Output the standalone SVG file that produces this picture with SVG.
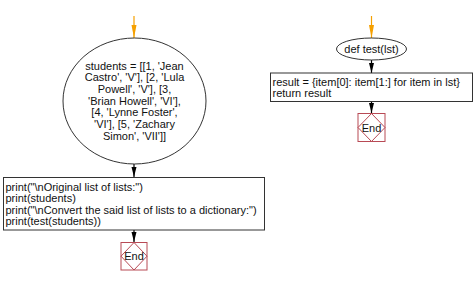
<svg xmlns="http://www.w3.org/2000/svg" width="474" height="283" viewBox="0 0 474 283">
<defs>
<marker id="ah" markerWidth="6" markerHeight="10" refX="3" refY="10" markerUnits="userSpaceOnUse" viewBox="0 0 6 10">
<path d="M0.5,0 L5.5,0 L3,10 Z" fill="#000"/>
</marker>
<marker id="ao" markerWidth="6" markerHeight="13" refX="3" refY="13" markerUnits="userSpaceOnUse" viewBox="0 0 6 13">
<path d="M0.5,0 L5.5,0 L3,13 Z" fill="#f5a000"/>
</marker>
<style>
text{font-family:"Liberation Sans",Arial,sans-serif;font-size:11px;fill:#111}
.c{text-anchor:middle}
.shape{fill:#fff;stroke:#333;stroke-width:1}
.endbox{fill:#fff;stroke:#b84a55;stroke-width:1}
.enddia{fill:none;stroke:#b84a55;stroke-width:1}
.ln{stroke:#000;stroke-width:1.2;fill:none}
.lo{stroke:#f5a000;stroke-width:1.2;fill:none}
</style>
</defs>
<rect width="474" height="283" fill="#fff"/>
<g id="connectors">
<line class="lo" x1="134" y1="16" x2="134" y2="38" marker-end="url(#ao)"/>
<line class="ln" x1="134" y1="164" x2="134" y2="177" marker-end="url(#ah)"/>
<line class="ln" x1="134" y1="230" x2="134" y2="242" marker-end="url(#ah)"/>
<line class="lo" x1="371.5" y1="16" x2="371.5" y2="38" marker-end="url(#ao)"/>
<line class="ln" x1="371.5" y1="60" x2="371.5" y2="73" marker-end="url(#ah)"/>
<line class="ln" x1="371.5" y1="102" x2="371.5" y2="113" marker-end="url(#ah)"/>
</g>
<g id="students">
<ellipse class="shape" cx="134.5" cy="101" rx="71.5" ry="63"/>
<text class="c" x="134.5" y="69.5">students = [[1, 'Jean</text>
<text class="c" x="134.5" y="81.2">Castro', 'V'], [2, 'Lula</text>
<text class="c" x="134.5" y="92.9">Powell', 'V'], [3,</text>
<text class="c" x="134.5" y="104.6">'Brian Howell', 'VI'],</text>
<text class="c" x="134.5" y="116.3">[4, 'Lynne Foster',</text>
<text class="c" x="134.5" y="128">'VI'], [5, 'Zachary</text>
<text class="c" x="134.5" y="139.7">Simon', 'VII']]</text>
</g>
<g id="prints">
<rect class="shape" x="3.5" y="177.5" width="261" height="52.5"/>
<text x="5.5" y="190.5">print("\nOriginal list of lists:")</text>
<text x="5.5" y="202">print(students)</text>
<text x="5.5" y="213.5">print("\nConvert the said list of lists to a dictionary:")</text>
<text x="5.5" y="225">print(test(students))</text>
</g>
<g id="end1">
<rect class="endbox" x="121" y="242.5" width="26" height="27.5"/>
<path class="enddia" d="M134,242.5 L147,256.2 L134,270 L121,256.2 Z"/>
<text class="c" x="134" y="260">End</text>
</g>
<g id="deftest">
<ellipse class="shape" cx="371.5" cy="49" rx="35" ry="11"/>
<text class="c" x="371.5" y="53">def test(lst)</text>
</g>
<g id="result">
<rect class="shape" x="270.5" y="73" width="202" height="28.5"/>
<text x="272.5" y="85.5">result = {item[0]: item[1:] for item in lst}</text>
<text x="272.5" y="97">return result</text>
</g>
<g id="end2">
<rect class="endbox" x="358" y="113.5" width="27" height="28"/>
<path class="enddia" d="M371.5,113.5 L385,127.5 L371.5,141.5 L358,127.5 Z"/>
<text class="c" x="371.5" y="131.5">End</text>
</g>
</svg>
